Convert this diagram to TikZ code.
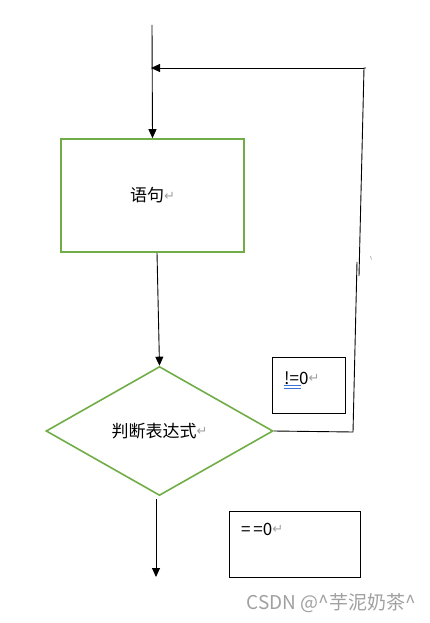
\documentclass[tikz,border=0pt]{standalone}
\usepackage{fontspec}
\setmainfont{Noto Sans CJK SC}
\newfontfamily\markfont{DejaVu Sans}
\usetikzlibrary{shapes.geometric, arrows.meta, positioning}

\definecolor{boxgreen}{HTML}{70AD47}
\definecolor{markgray}{HTML}{A0A0A0}
\definecolor{ulblue}{HTML}{3A6FD8}

\newcommand{\ret}{{\markfont\fontsize{13}{13}\selectfont\color{markgray}\raisebox{1.5pt}{↵}}}

\tikzset{
  stmtbox/.style = {draw=boxgreen, line width=1.6pt, rectangle, inner sep=0pt},
  judgebox/.style = {draw=boxgreen, line width=1.6pt, diamond, inner sep=0pt, aspect=1.76},
  valbox/.style = {draw=black, line width=0.9pt, rectangle, inner sep=0pt},
  flow/.style = {draw=black, line width=0.9pt, -{Triangle[length=9pt, width=8pt]}},
  wire/.style = {draw=black, line width=0.9pt}
}

\begin{document}
\begin{tikzpicture}[x=1pt, y=-1pt, font=\fontsize{17}{20}\selectfont]
\useasboundingbox (0,0) rectangle (430,623);

\node[stmtbox, minimum width=183pt, minimum height=113pt] (stmt) at (152.5,195.5) {语句\ret};
\node[judgebox, minimum width=227pt, minimum height=129pt] (judge) at (159.5,431) {判断表达式\ret};
\node[valbox, minimum width=73pt, minimum height=56pt] (ne) at (308.5,385) {};
\node[valbox, minimum width=131pt, minimum height=66pt] (eq) at (294.5,544) {};
\node[anchor=west, inner sep=0pt] (netext) at (284,378) {!=0\ret};
\node[anchor=west, inner sep=0pt] (eqtext) at (241,529) {=\,=0\ret};
\node[anchor=east, inner sep=0pt, text=markgray, font=\fontsize{19}{22}\selectfont] (mark) at (416,603) {CSDN @\textasciicircum 芋泥奶茶\textasciicircum};

\coordinate (start) at (152,25);
\coordinate (back) at (151,68);
\coordinate (corner) at (364,68);
\coordinate (jogtop) at (359,276);
\coordinate (jogbot) at (357,262);
\coordinate (join) at (353,432);
\coordinate (leave) at (156,499);
\coordinate (finish) at (156,577);

\draw[flow] (start) -- (stmt.north);
\draw[flow] ([xshift=4.5pt]stmt.south) -- (judge.north);
\draw[flow] (corner) -- (back);
\draw[wire] ([xshift=2pt]corner) -- (corner) -- (jogtop);
\draw[wire] (jogbot) -- (join);
\draw[wire] (judge.east) -- (join);
\draw[flow] (leave) -- (finish);

\draw[ulblue, line width=0.8pt] (284,385) -- (301,385);
\draw[ulblue, line width=0.8pt] (284,388.5) -- (301,388.5);
\draw[markgray, line width=0.6pt] (370.5,256) -- (371.5,259.5);
\end{tikzpicture}
\end{document}
